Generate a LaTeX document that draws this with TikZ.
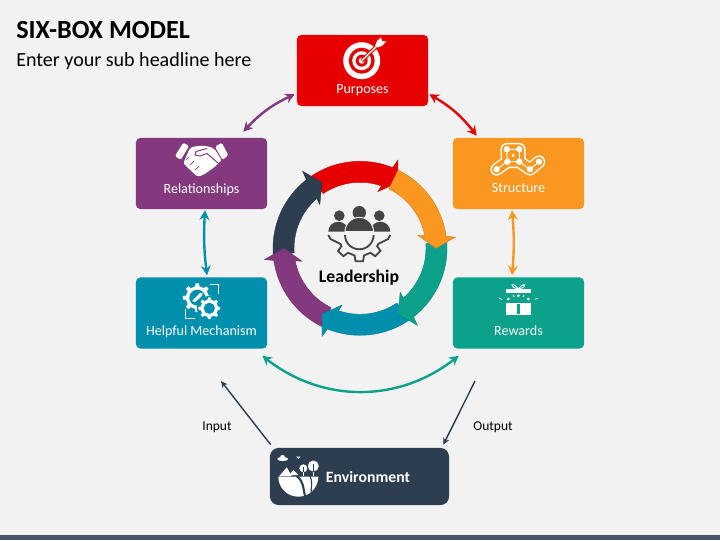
\documentclass[tikz,border=0pt]{standalone}
\usepackage{fontspec}
\setmainfont{Carlito}
\usetikzlibrary{arrows.meta,positioning}

\definecolor{pagebg}{HTML}{F2F2F2}
\definecolor{footbar}{HTML}{44546A}
\definecolor{cred}{HTML}{E60000}
\definecolor{corange}{HTML}{F99720}
\definecolor{cteal}{HTML}{0BA18A}
\definecolor{cblue}{HTML}{0090AD}
\definecolor{cpurple}{HTML}{84387D}
\definecolor{cnavy}{HTML}{2C3E50}
\definecolor{cgray}{HTML}{444444}

% white cog: x, y, outer radius, inner radius
\newcommand{\gearfill}[4]{%
  \begin{scope}[shift={(#1,#2)}]
    \fill[white] (-11:#4) \foreach \a in {0,45,...,315} {-- (\a-11:#4) -- (\a-7:#3) -- (\a+7:#3) -- (\a+11:#4)} -- cycle;
  \end{scope}}

\begin{document}
\begin{tikzpicture}[
  x=0.025cm, y=0.025cm,
  box/.style={rounded corners=3pt, minimum width=3.275cm, minimum height=1.775cm, inner sep=0pt},
  boxtext/.style={text=white, font=\fontsize{10}{12}\selectfont, inner sep=0pt},
  conn/.style={{Stealth[length=2.4mm,width=2.5mm]}-{Stealth[length=2.4mm,width=2.5mm]}, line width=1.7pt},
  inout/.style={-{Stealth[length=1.7mm,width=1.6mm]}, line width=1pt, cnavy},
  plain/.style={font=\fontsize{9.6}{12}\selectfont, inner sep=0pt},
]
\useasboundingbox (0,0) rectangle (720,540);
\fill[pagebg] (0,0) rectangle (720,540);
\fill[footbar] (0,0) rectangle (720,5);

\node[anchor=west, inner sep=0pt, font=\bfseries\fontsize{18.6}{22}\selectfont] (title) at (16,510) {SIX-BOX MODEL};
\node[anchor=west, inner sep=0pt, font=\fontsize{14.25}{17}\selectfont] (subtitle) at (16,478.5) {Enter your sub headline here};

% the six boxes
\node[box, fill=cred] (purposes) at (362.5,469.5) {};
\node[box, fill=cpurple] (relations) at (201.5,366.5) {};
\node[box, fill=corange] (structure) at (518.5,366.5) {};
\node[box, fill=cblue] (helpful) at (201.5,227) {};
\node[box, fill=cteal] (rewards) at (518.5,227) {};
\node[box, fill=cnavy, rounded corners=6pt, minimum width=4.475cm, minimum height=1.425cm] (environment) at (359.5,63.5) {};

\node[boxtext] (purposestext) at (362.5,449.5) {Purposes};
\node[boxtext] (relationstext) at (201.5,350.5) {Relationships};
\node[boxtext] (structuretext) at (518.5,352) {Structure};
\node[boxtext] (helpfultext) at (201.5,208) {Helpful Mechanism};
\node[boxtext] (rewardstext) at (518.5,209) {Rewards};
\node[boxtext, font=\bfseries\fontsize{11.2}{12}\selectfont] (environmenttext) at (368,62.5) {Environment};
\node[inner sep=0pt, font=\bfseries\fontsize{12.6}{14}\selectfont] (leadership) at (359,262.5) {Leadership};

% connectors between the boxes
\draw[conn, cpurple] ([shift={(-2,12)}]purposes.south west) to[bend right=11] ([shift={(-24,6)}]relations.north east);
\draw[conn, cred] ([shift={(1,12)}]purposes.south east) to[bend left=11] ([shift={(24,2)}]structure.north west);
\draw[conn, corange] ([shift={(-6.5,-1)}]structure.south) to[bend left=5] ([shift={(-6.5,2)}]rewards.north);
\draw[conn, cblue] ([shift={(3.5,-1)}]relations.south) to[bend right=5] ([shift={(5.5,2)}]helpful.north);
\draw[conn, cteal] ([shift={(-5,-7)}]helpful.south east) to[bend right=38] ([shift={(6,-7)}]rewards.south west);

\coordinate (inputend) at (221,159);
\coordinate (outputstart) at (475,159);
\draw[inout] ([shift={(1,3)}]environment.north west) -- (inputend);
\draw[inout] (outputstart) -- ([shift={(-6,3)}]environment.north east);
\node[plain] (input) at (217,112.5) {Input};
\node[plain] (output) at (493,112.5) {Output};

% ring of arrows
\begin{scope}[shift={(360,291.7)}]
  \foreach \tip/\col in {60/cred,120/cnavy,180/cpurple,240/cblue,300/cteal,0/corange}
    \filldraw[fill=\col, draw=\col!85!black, line width=0.3pt]
      (\tip+64:87) arc[start angle=\tip+64, end angle=\tip+8, radius=87]
      -- (\tip+6.7:96) -- (\tip:76) -- (\tip+12.5:59.5) -- (\tip+11:66)
      arc[start angle=\tip+11, end angle=\tip+64, radius=66] -- cycle;
\end{scope}

% icons, in pixels of the page from the top left
\begin{scope}[shift={(0,540)}, yscale=-1]
  % target
  \fill[white] (361.7,60.7) circle (18.5);
  \fill[cred] (361.7,60.7) circle (13);
  \fill[white] (361.7,60.7) circle (9.5);
  \fill[cred] (361.7,60.7) circle (6);
  \fill[white] (361.7,60.7) circle (3);
  \draw[cred, line width=2.6pt] (361.7,60.7) -- (378,45);
  \draw[white, line width=1pt] (361.7,60.7) -- (378,45);
  \fill[white] (375,46) -- (377,41) -- (381,37.5) -- (382,41) -- (386,41.5) -- (382.5,45.5) -- (378,47.5) -- cycle;

  % handshake
  \fill[white, rounded corners=1pt] (175,156) -- (183.3,142.7) -- (189,146) -- (180.7,160) -- cycle;
  \fill[white, rounded corners=1pt] (221.7,142.7) -- (228.3,155) -- (222.7,160) -- (215,146.7) -- cycle;
  \fill[white, rounded corners=1.5pt] (190,147.7) -- (196.7,146) -- (207.3,146) -- (214,148.3) -- (221.7,160) -- (215,166.7) -- (203.3,175) -- (197.3,176.7) -- (183.3,163.3) -- cycle;
  \draw[cpurple, line width=0.7pt] (207,148.5) -- (196,151.5) -- (195,155) -- (200,156) -- (207,153.5) -- (218,163);
  \draw[cpurple, line width=0.5pt] (186,160) -- (189,157) (190,165) -- (194,161) (195,170) -- (199,166);

  % network
  \coordinate (na) at (506.7,149.3);
  \coordinate (nb) at (519.3,149.3);
  \coordinate (nc) at (507.3,161.7);
  \coordinate (nd) at (519.3,161.7);
  \coordinate (ne) at (496.7,169.3);
  \coordinate (nf) at (530,169.3);
  \coordinate (ng) at (539,161.7);
  \draw[white, line width=9pt, line cap=round, line join=round] (na) -- (nb) -- (nd) -- (nc) -- cycle (nc) -- (ne) (nd) -- (nf) -- (ng);
  \draw[corange, line width=7pt, line cap=round, line join=round] (na) -- (nb) -- (nd) -- (nc) -- cycle (nc) -- (ne) (nd) -- (nf) -- (ng);
  \draw[white, line width=0.7pt] (na) -- (nb) -- (nd) -- (nc) -- cycle (nc) -- (ne) (nd) -- (nf) -- (ng);
  \foreach \n in {na,nb,nc,nd,ne,nf,ng}
    \fill[white] (\n) circle (3.2);

  % gift
  \fill[white] (506,289.3) rectangle (530.7,293.3);
  \fill[white] (506,302.7) rectangle (530.7,315);
  \fill[cteal] (517,304) rectangle (520,314);
  \draw[white, line width=0.6pt] (518.3,289) .. controls (512,280) and (508,287) .. (518.3,289) .. controls (529,287) and (525,280) .. (518.3,289);
  \foreach \sx/\sy in {508.3/299,518.3/295.7,528.3/299}
    \fill[white] (\sx,\sy) circle (1.5);
  \draw[white, line width=0.6pt] (499,298.3) -- (501.7,299.3) (535,299.3) -- (537.7,298.3) (513,295) -- (514,297) (524,295) -- (523,297);

  % gears
  \draw[white, line width=0.6pt] (210,284.3) -- (218.3,284.3) -- (218.3,294) (185.7,309.3) -- (185.7,318.3) -- (195,318.3);
  \gearfill{197.3}{297.7}{14.5}{11.5}
  \fill[cblue] (197.3,297.7) circle (8);
  \fill[white] (192,301) -- (200,293) -- (203,293.5) -- (201,297) -- (195,302) -- cycle;
  \fill[cblue] (209.3,308.3) circle (12.5);
  \gearfill{209.3}{308.3}{11}{8.8}
  \fill[cblue] (209.3,308.3) circle (5.6);

  % people and cog
  \fill[cgray] (359.3,212.7) circle (6.7);
  \fill[cgray] (339.3,215.7) circle (5.3);
  \fill[cgray] (379.3,215.7) circle (5.3);
  \fill[cgray] (328.3,231.7) arc[start angle=180, end angle=360, radius=10] -- cycle;
  \fill[cgray] (370.3,231.7) arc[start angle=180, end angle=360, radius=10] -- cycle;
  \filldraw[fill=cgray, draw=pagebg, line width=0.7pt] (345,231.7) arc[start angle=180, end angle=360, radius=14.3] -- cycle;
  \draw[cgray, line width=1.3pt] (345,235) arc[start angle=180, end angle=0, radius=14.3];
  \begin{scope}[shift={(359.3,235)}]
    \draw[cgray, line width=1.3pt] (180:31) -- (172:29) -- (155:21)
      \foreach \a in {135,90,45} {-- (\a+13:21) -- (\a+8:26.5) -- (\a-8:26.5) -- (\a-13:21)}
      -- (25:21) -- (8:29) -- (0:31);
  \end{scope}

  % landscape
  \fill[white] (278.3,476.7) arc[start angle=180, end angle=0, radius=20] -- cycle;
  \draw[cnavy, line width=1.5pt] (296.7,476) .. controls (304,482) and (303,488) .. (305,496);
  \draw[cnavy, line width=0.8pt] (310,476) .. controls (313,482) and (311,488) .. (311,494);
  \fill[white] (279.3,476) -- (286.7,467.3) -- (291.7,476) -- cycle;
  \fill[white] (289.3,475) -- (293.3,470) -- (298.3,475) -- cycle;
  \draw[white, line width=0.6pt] (303.3,468) -- (303.3,476) (313.3,466) -- (313.3,476);
  \fill[white] (303.3,468.3) circle (4);
  \fill[white] (313.3,466) circle (5.5);
  \draw[cnavy, line width=0.4pt] (303.3,466.5) -- (303.3,472) (313.3,464) -- (313.3,471.5);
  \fill[white] (282.7,459) ellipse (5.5 and 2);
  \fill[white] (282.5,457.3) circle (2.4);
  \fill[white] (296,456.5) -- (300.5,456.5) -- (298.3,459) -- cycle;
\end{scope}
\end{tikzpicture}
\end{document}
